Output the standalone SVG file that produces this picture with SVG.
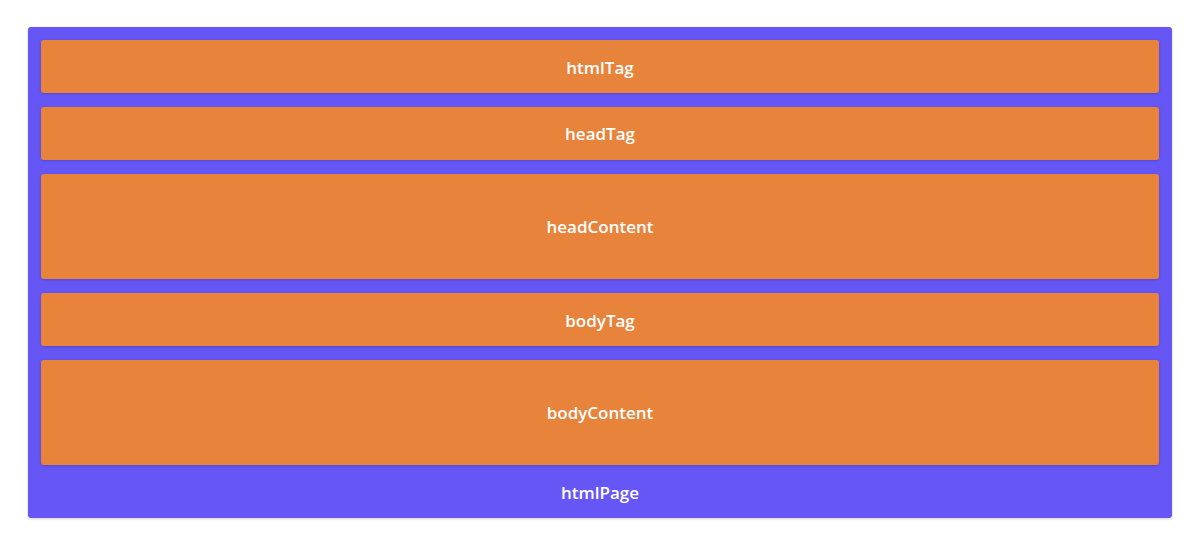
<svg xmlns="http://www.w3.org/2000/svg" width="1200" height="547" viewBox="0 0 1200 547">
<defs>
<filter id="sh" x="-5%" y="-10%" width="110%" height="130%">
<feDropShadow dx="0" dy="1" stdDeviation="1.5" flood-color="#000" flood-opacity="0.18"/>
</filter>
<style>
.box{fill:#E8833A;filter:url(#sh);}
.page{fill:#6657F5;filter:url(#sh);}
.lbl{font-family:"Open Sans","Lato",sans-serif;font-weight:600;font-size:17px;fill:#ffffff;text-anchor:middle;dominant-baseline:central;}
</style>
</defs>
<rect width="1200" height="547" fill="#ffffff"/>
<g id="htmlPage">
<rect class="page" x="28" y="27" width="1144" height="491" rx="3"/>
<text class="lbl" x="600" y="492">htmlPage</text>
</g>
<g id="htmlTag">
<rect class="box" x="41" y="40" width="1118" height="53" rx="3"/>
<text class="lbl" x="600" y="67">htmlTag</text>
</g>
<g id="headTag">
<rect class="box" x="41" y="107" width="1118" height="53" rx="3"/>
<text class="lbl" x="600" y="133">headTag</text>
</g>
<g id="headContent">
<rect class="box" x="41" y="174" width="1118" height="105" rx="3"/>
<text class="lbl" x="600" y="226">headContent</text>
</g>
<g id="bodyTag">
<rect class="box" x="41" y="293" width="1118" height="53" rx="3"/>
<text class="lbl" x="600" y="320">bodyTag</text>
</g>
<g id="bodyContent">
<rect class="box" x="41" y="360" width="1118" height="105" rx="3"/>
<text class="lbl" x="600" y="412">bodyContent</text>
</g>
<g id="connectors"/>
</svg>
